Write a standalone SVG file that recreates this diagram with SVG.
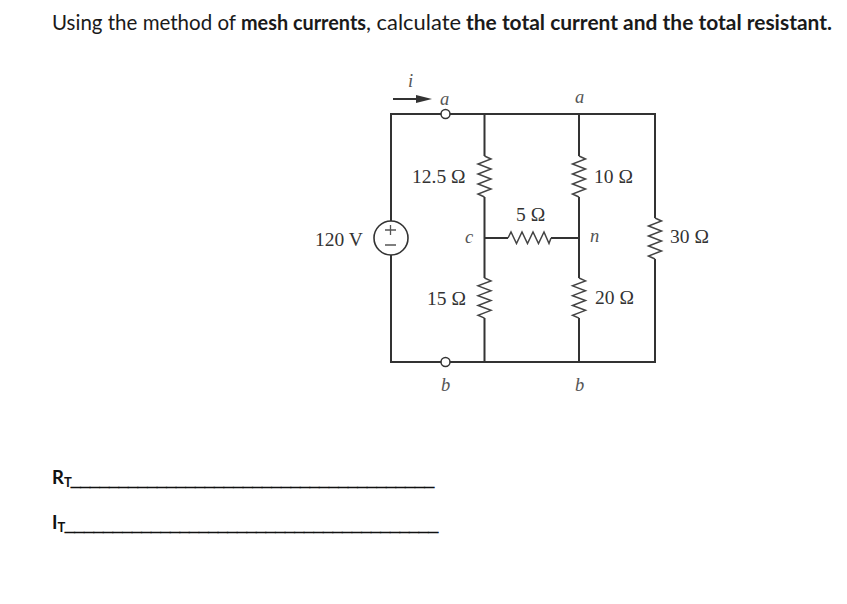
<svg xmlns="http://www.w3.org/2000/svg" width="847" height="604" viewBox="0 0 847 604">
<style>
.w{fill:none;stroke:#333;stroke-width:2}
.r{fill:none;stroke:#444;stroke-width:1.500;stroke-linejoin:miter}
.t{font-family:"Liberation Serif","Times New Roman",serif;font-size:19.500px;fill:#333}
.i{font-family:"Liberation Serif","Times New Roman",serif;font-size:18.500px;font-style:italic;fill:#555}
.h{font-family:Lato,"Noto Sans",sans-serif;font-size:21.300px;fill:#1a1a1a}
.b{font-weight:700}
.a{font-family:Lato,"Noto Sans",sans-serif;font-size:18.500px;font-weight:700;fill:#111}
.u{font-family:"Liberation Sans",Arial,sans-serif;font-size:18px;font-weight:700;fill:#111;stroke:#111;stroke-width:.9}
.s{font-size:13px}
</style>
<defs>
<path id="rv" class="r" d="M0 0L6.500 3L-6.500 8L6.500 13L-6.500 18L6.500 23L-6.500 28L6.500 33L-6.500 38L0 41"/>
</defs>
<g id="title"><text class="h" x="52" y="30" textLength="184" lengthAdjust="spacingAndGlyphs">Using the method of</text><text class="h b" x="241" y="30" textLength="125" lengthAdjust="spacingAndGlyphs">mesh currents</text><text class="h" x="366" y="30" textLength="95" lengthAdjust="spacingAndGlyphs">, calculate</text><text class="h b" x="466" y="30" textLength="366" lengthAdjust="spacingAndGlyphs">the total current and the total resistant.</text></g>
<g id="connectors">
<path class="w" d="M391 221V114H655V218M655 259V362H391V255"/>
<path class="w" d="M484.500 114V156M484.500 197V278M484.500 318V362"/>
<path class="w" d="M579 114V156M579 197V278M579 318V362"/>
<path class="w" d="M484.500 238H508M551 238H579"/>
<path d="M393 99H418" fill="none" stroke="#333" stroke-width="2"/>
<path d="M416 95L432 99L416 103Z" fill="#333"/>
</g>
<g id="source-120v"><circle cx="391" cy="238" r="17" fill="#fff" stroke="#333" stroke-width="1.600"/><path d="M385 230H396M390.500 225V235M385 245H396" fill="none" stroke="#555" stroke-width="1.300"/><text class="t" x="315" y="246">120 V</text></g>
<g id="terminal-a"><circle cx="445.500" cy="114" r="4.500" fill="#fff" stroke="#333" stroke-width="1.500"/><text class="i" x="440" y="105">a</text></g>
<g id="terminal-b"><circle cx="445.500" cy="362" r="4.500" fill="#fff" stroke="#333" stroke-width="1.500"/><text class="i" x="441" y="391">b</text></g>
<g id="label-i"><text class="i" x="408" y="87">i</text></g>
<g id="node-a2"><text class="i" x="575" y="103">a</text></g>
<g id="node-b2"><text class="i" x="575" y="391">b</text></g>
<g id="node-c"><text class="i" x="465" y="243">c</text></g>
<g id="node-n"><text class="i" x="590" y="242">n</text></g>
<g id="r-12-5"><use href="#rv" transform="translate(484.500 156)"/><text class="t" x="412" y="183">12.5 Ω</text></g>
<g id="r-15"><use href="#rv" transform="translate(484.500 278) scale(1 .98)"/><text class="t" x="427" y="305">15 Ω</text></g>
<g id="r-5"><path class="r" d="M508 238L511 232L516.500 243.500L522 232L527.500 243.500L533 232L538.500 243.500L544 232L549 243.500L551 238"/><text class="t" x="516" y="221">5 Ω</text></g>
<g id="r-10"><use href="#rv" transform="translate(579 156)"/><text class="t" x="594" y="183">10 Ω</text></g>
<g id="r-20"><use href="#rv" transform="translate(579 278) scale(1 .98)"/><text class="t" x="595" y="304">20 Ω</text></g>
<g id="r-30"><use href="#rv" transform="translate(655 218)"/><text class="t" x="670" y="243">30 Ω</text></g>
<g id="answer-rt"><text class="a" x="52" y="484">R<tspan class="s" dy="3">T</tspan></text><text class="u" x="71" y="485.500" textLength="363" lengthAdjust="spacingAndGlyphs">______________________________________</text></g>
<g id="answer-it"><text class="a" x="52" y="529">I<tspan class="s" dy="3">T</tspan></text><text class="u" x="65" y="530.500" textLength="373" lengthAdjust="spacingAndGlyphs">_______________________________________</text></g>
</svg>
